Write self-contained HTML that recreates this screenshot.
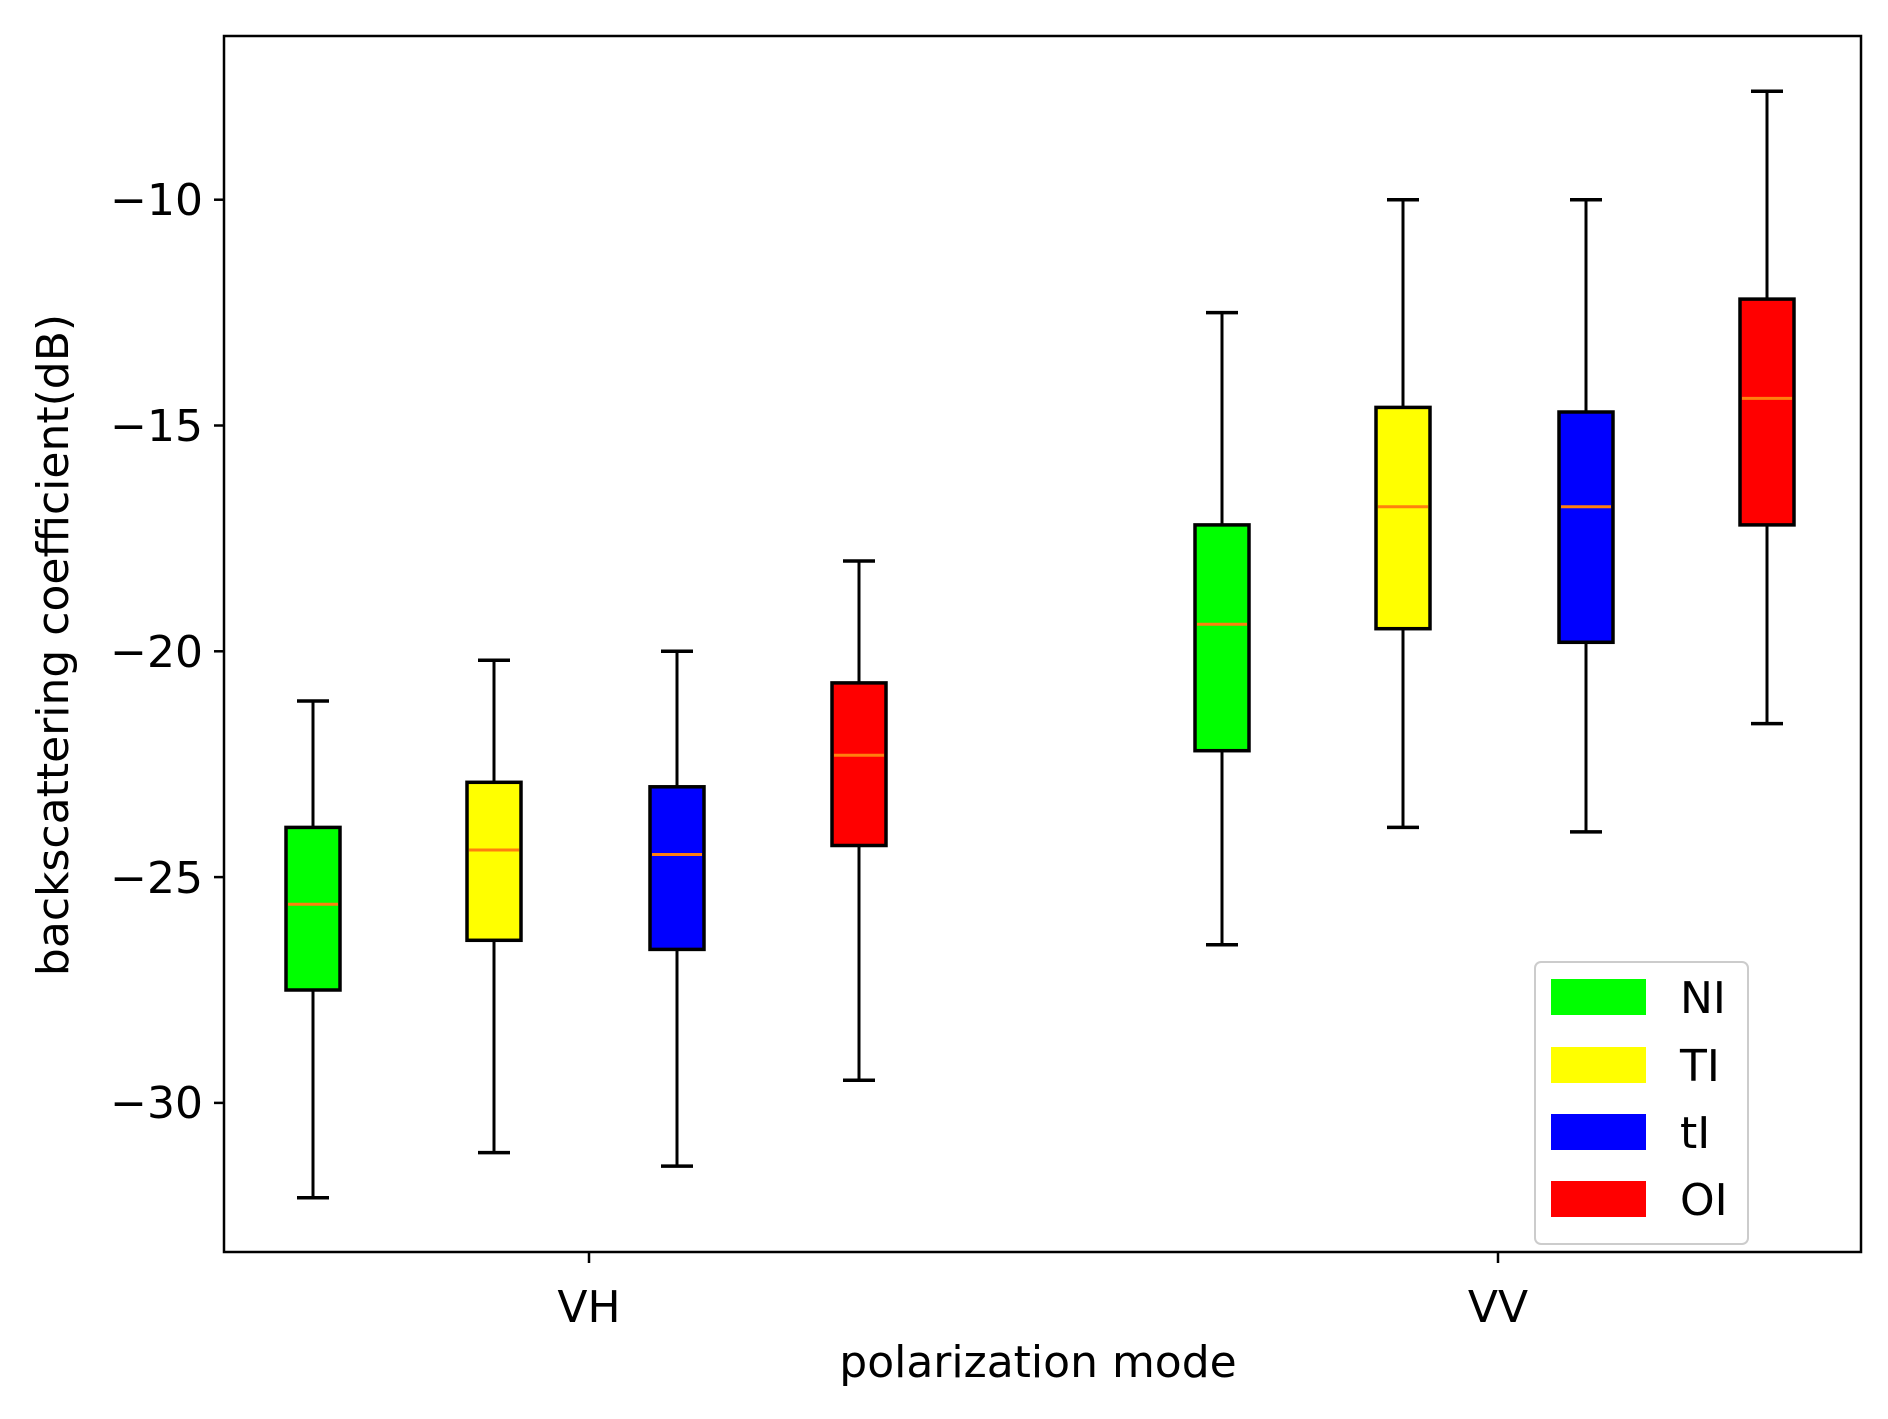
<!DOCTYPE html>
<html><head><meta charset="utf-8"><style>html,body{margin:0;padding:0;background:#fff}svg{display:block}text{font-family:"DejaVu Sans","Liberation Sans",sans-serif;fill:#000}</style></head>
<body>
<svg width="1888" height="1419" viewBox="0 0 1888 1419" xmlns="http://www.w3.org/2000/svg">
<rect width="1888" height="1419" fill="#fff"/>
<g font-size="44" text-anchor="end">
<line x1="214" x2="224" y1="199.7" y2="199.7" stroke="#000" stroke-width="2.5"/><text x="203" y="215">−10</text>
<line x1="214" x2="224" y1="425.5" y2="425.5" stroke="#000" stroke-width="2.5"/><text x="203" y="441">−15</text>
<line x1="214" x2="224" y1="651.3" y2="651.3" stroke="#000" stroke-width="2.5"/><text x="203" y="667">−20</text>
<line x1="214" x2="224" y1="877.1" y2="877.1" stroke="#000" stroke-width="2.5"/><text x="203" y="893">−25</text>
<line x1="214" x2="224" y1="1102.9" y2="1102.9" stroke="#000" stroke-width="2.5"/><text x="203" y="1118">−30</text>
</g>
<line x1="589" x2="589" y1="1252" y2="1263" stroke="#000" stroke-width="2.5"/>
<line x1="1498" x2="1498" y1="1252" y2="1263" stroke="#000" stroke-width="2.5"/>
<g font-size="44" text-anchor="middle">
<text x="589" y="1322">VH</text><text x="1498" y="1322">VV</text>
<text x="1038" y="1377">polarization mode</text>
<text transform="translate(68,645) rotate(-90)">backscattering coefficient(dB)</text>
</g>
<g stroke="#000" stroke-width="3">
<!-- VH NI -->
<line x1="313" x2="313" y1="1197.7" y2="990.0"/><line x1="313" x2="313" y1="827.4" y2="701.0"/>
<line x1="297" x2="329" y1="1197.7" y2="1197.7" stroke-width="3.5"/><line x1="297" x2="329" y1="701.0" y2="701.0" stroke-width="3.5"/>
<rect x="286" y="827.4" width="54" height="162.6" fill="#00ff00" stroke-width="3.5"/>
<line x1="288" x2="338" y1="904.2" y2="904.2" stroke="#ff7f0e"/>
<!-- VH TI -->
<line x1="494" x2="494" y1="1152.6" y2="940.3"/><line x1="494" x2="494" y1="782.3" y2="660.3"/>
<line x1="478" x2="510" y1="1152.6" y2="1152.6" stroke-width="3.5"/><line x1="478" x2="510" y1="660.3" y2="660.3" stroke-width="3.5"/>
<rect x="467" y="782.3" width="54" height="158.0" fill="#ffff00" stroke-width="3.5"/>
<line x1="469" x2="519" y1="850.0" y2="850.0" stroke="#ff7f0e"/>
<!-- VH tI -->
<line x1="677" x2="677" y1="1166.1" y2="949.4"/><line x1="677" x2="677" y1="786.8" y2="651.3"/>
<line x1="661" x2="693" y1="1166.1" y2="1166.1" stroke-width="3.5"/><line x1="661" x2="693" y1="651.3" y2="651.3" stroke-width="3.5"/>
<rect x="650" y="786.8" width="54" height="162.6" fill="#0000ff" stroke-width="3.5"/>
<line x1="652" x2="702" y1="854.5" y2="854.5" stroke="#ff7f0e"/>
<!-- VH OI -->
<line x1="859" x2="859" y1="1080.3" y2="845.5"/><line x1="859" x2="859" y1="682.9" y2="561.0"/>
<line x1="843" x2="875" y1="1080.3" y2="1080.3" stroke-width="3.5"/><line x1="843" x2="875" y1="561.0" y2="561.0" stroke-width="3.5"/>
<rect x="832" y="682.9" width="54" height="162.6" fill="#ff0000" stroke-width="3.5"/>
<line x1="834" x2="884" y1="755.2" y2="755.2" stroke="#ff7f0e"/>
<!-- VV NI -->
<line x1="1222" x2="1222" y1="944.8" y2="750.7"/><line x1="1222" x2="1222" y1="524.9" y2="312.6"/>
<line x1="1206" x2="1238" y1="944.8" y2="944.8" stroke-width="3.5"/><line x1="1206" x2="1238" y1="312.6" y2="312.6" stroke-width="3.5"/>
<rect x="1195" y="524.9" width="54" height="225.8" fill="#00ff00" stroke-width="3.5"/>
<line x1="1197" x2="1247" y1="624.2" y2="624.2" stroke="#ff7f0e"/>
<!-- VV TI -->
<line x1="1403" x2="1403" y1="827.4" y2="628.7"/><line x1="1403" x2="1403" y1="407.4" y2="199.7"/>
<line x1="1387" x2="1419" y1="827.4" y2="827.4" stroke-width="3.5"/><line x1="1387" x2="1419" y1="199.7" y2="199.7" stroke-width="3.5"/>
<rect x="1376" y="407.4" width="54" height="221.3" fill="#ffff00" stroke-width="3.5"/>
<line x1="1378" x2="1428" y1="506.8" y2="506.8" stroke="#ff7f0e"/>
<!-- VV tI -->
<line x1="1586" x2="1586" y1="831.9" y2="642.3"/><line x1="1586" x2="1586" y1="412.0" y2="199.7"/>
<line x1="1570" x2="1602" y1="831.9" y2="831.9" stroke-width="3.5"/><line x1="1570" x2="1602" y1="199.7" y2="199.7" stroke-width="3.5"/>
<rect x="1559" y="412.0" width="54" height="230.3" fill="#0000ff" stroke-width="3.5"/>
<line x1="1561" x2="1611" y1="506.8" y2="506.8" stroke="#ff7f0e"/>
<!-- VV OI -->
<line x1="1767" x2="1767" y1="723.6" y2="524.9"/><line x1="1767" x2="1767" y1="299.1" y2="91.3"/>
<line x1="1751" x2="1783" y1="723.6" y2="723.6" stroke-width="3.5"/><line x1="1751" x2="1783" y1="91.3" y2="91.3" stroke-width="3.5"/>
<rect x="1740" y="299.1" width="54" height="225.8" fill="#ff0000" stroke-width="3.5"/>
<line x1="1742" x2="1792" y1="398.4" y2="398.4" stroke="#ff7f0e"/>
</g>
<rect x="224" y="36" width="1637" height="1216" fill="none" stroke="#000" stroke-width="2.5"/>
<rect x="1535" y="962" width="213" height="282" rx="6" fill="#fff" stroke="#ccc" stroke-width="2"/>
<rect x="1551" y="979" width="95" height="36" fill="#00ff00"/>
<rect x="1551" y="1047" width="95" height="36" fill="#ffff00"/>
<rect x="1551" y="1114" width="95" height="36" fill="#0000ff"/>
<rect x="1551" y="1181" width="95" height="36" fill="#ff0000"/>
<g font-size="44"><text x="1680" y="1013">NI</text><text x="1680" y="1081">TI</text><text x="1680" y="1148">tI</text><text x="1680" y="1215">OI</text></g>
</svg>
</body></html>
